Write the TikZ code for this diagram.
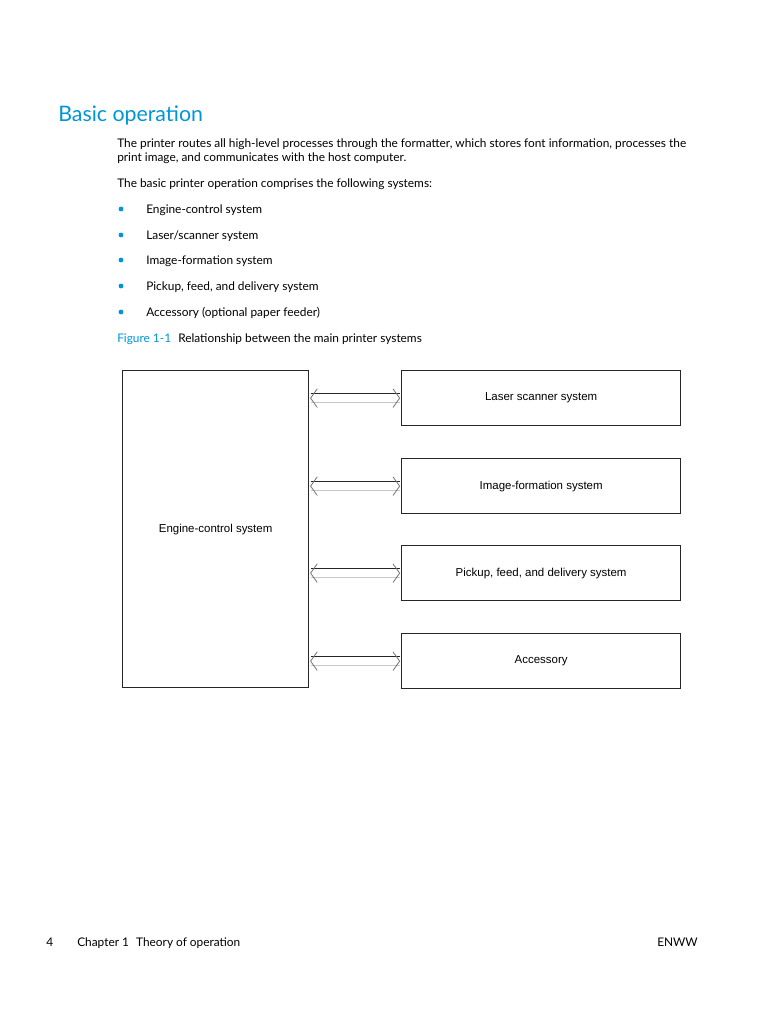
\documentclass[tikz,border=0pt]{standalone}
\usepackage{fontspec}
\setmainfont{Lato}
\newfontfamily\arialfont{Liberation Sans}
\definecolor{hpblue}{RGB}{0,150,214}
\tikzstyle{sysbox}=[rectangle,anchor=north west,draw=black!85,line width=0.95pt,inner sep=0pt,minimum width=209.25pt,minimum height=41.25pt,text centered,font=\arialfont\fontsize{8.6}{10}\selectfont]
\tikzstyle{linktop}=[draw=black!85,line width=0.7pt]
\tikzstyle{linkbot}=[draw=black!22,line width=1.1pt]
\tikzstyle{chevron}=[draw=black!55,line width=0.6pt]
\tikzstyle{body}=[anchor=base west,inner sep=0pt,font=\fontsize{8.9}{11}\selectfont]
\tikzstyle{bullet}=[circle,fill=hpblue,inner sep=0pt,minimum size=3.6pt]

\begin{document}
\begin{tikzpicture}[x=0.75pt,y=-0.75pt]
\useasboundingbox[fill=white](0,0) rectangle (768,1024);
% heading and text
\node(title)[anchor=base west,inner sep=0pt,text=hpblue,font=\fontsize{16}{20}\selectfont] at (58,121){Basic operation};
\node(par1)[body] at (117,147){The printer routes all high-level processes through the formatter, which stores font information, processes the};
\node(par2)[body] at (117,161){print image, and communicates with the host computer.};
\node(par3)[body] at (117,187){The basic printer operation comprises the following systems:};
\node(b1)[bullet] at (121,209){};
\node(b2)[bullet] at (121,235){};
\node(b3)[bullet] at (121,260){};
\node(b4)[bullet] at (121,286){};
\node(b5)[bullet] at (121,312){};
\node(i1)[body] at (146,213){Engine-control system};
\node(i2)[body] at (146,239){Laser/scanner system};
\node(i3)[body] at (146,264){Image-formation system};
\node(i4)[body] at (146,290){Pickup, feed, and delivery system};
\node(i5)[body] at (146,316){Accessory (optional paper feeder)};
\node(caption)[body] at (117,342){\textcolor{hpblue}{Figure 1-1}\hspace{0.6em}Relationship between the main printer systems};
% diagram
\node(engine)[sysbox,minimum width=139.5pt,minimum height=237.75pt] at (122,370){Engine-control system};
\node(laser)[sysbox] at (401,370){Laser scanner system};
\node(image)[sysbox] at (401,458){Image-formation system};
\node(pickup)[sysbox] at (401,545){Pickup, feed, and delivery system};
\node(accessory)[sysbox] at (401,633){Accessory};
% double arrows between engine control and each system
\foreach \sys in {laser,image,pickup,accessory}{
  \coordinate(from) at ([xshift=1pt]engine.east|-\sys.west);
  \coordinate(to) at ([xshift=-1pt]\sys.west);
  \draw[linktop]([yshift=3.2pt]from)--([yshift=3.2pt]to);
  \draw[linkbot]([yshift=-3.2pt]from)--([yshift=-3.2pt]to);
  \draw[chevron]([xshift=5pt,yshift=7pt]from)--(from)--([xshift=5pt,yshift=-7pt]from);
  \draw[chevron]([xshift=-5pt,yshift=7pt]to)--(to)--([xshift=-5pt,yshift=-7pt]to);
}
% footer
\node(page)[body] at (46,946){4};
\node(chapter)[body] at (77,946){Chapter 1\hspace{0.6em}Theory of operation};
\node(enww)[body,anchor=base east] at (698,946){ENWW};
\end{tikzpicture}
\end{document}
